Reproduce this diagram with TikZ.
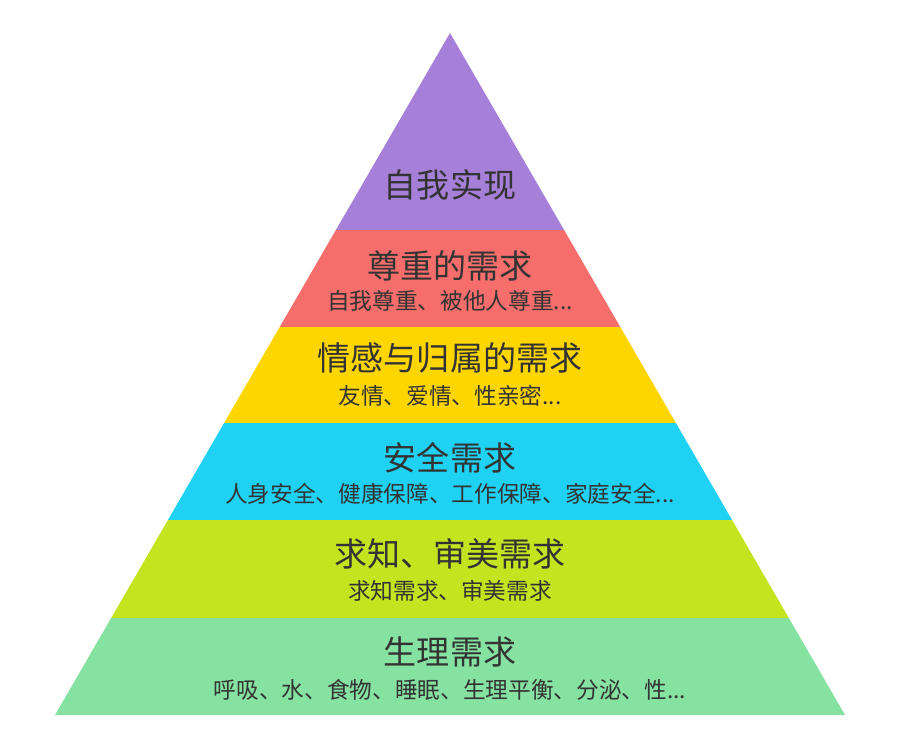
\documentclass[tikz,border=0pt]{standalone}
\usepackage{fontspec}
\newfontfamily\cjk{Noto Sans CJK SC}
\definecolor{selfc}{HTML}{A67FD9}
\definecolor{esteemc}{HTML}{F66E6C}
\definecolor{lovec}{HTML}{FDD600}
\definecolor{safec}{HTML}{1FD2F3}
\definecolor{knowc}{HTML}{C4E41F}
\definecolor{bodyc}{HTML}{86E2A1}
\definecolor{txtc}{HTML}{333333}
\tikzset{
  title/.style={text=txtc,font=\cjk\fontsize{18.8}{22}\selectfont,inner sep=0pt},
  sub/.style={text=txtc,font=\cjk\fontsize{12.9}{15}\selectfont,inner sep=0pt}
}
\begin{document}
\begin{tikzpicture}[x=0.02cm,y=-0.02cm]
  \fill[white] (0,0) rectangle (900,747);
  % layers, apex at (450,33), base from 55 to 845
  \foreach \top/\bot/\col in {33/230/selfc,230/327/esteemc,327/423/lovec,423/520/safec,520/618/knowc,618/715/bodyc}
    \fill[\col] ({450-(\top-33)*0.5792},\top) -- ({450+(\top-33)*0.5792},\top)
      -- ({450+(\bot-33)*0.5792},\bot) -- ({450-(\bot-33)*0.5792},\bot) -- cycle;
  \node[title] (self) at (450,185) {自我实现};
  \node[title] (esteem) at (450,266) {尊重的需求};
  \node[sub] (esteemsub) at (450,301) {自我尊重、被他人尊重...};
  \node[title] (love) at (450,358) {情感与归属的需求};
  \node[sub] (lovesub) at (450,396) {友情、爱情、性亲密...};
  \node[title] (safe) at (450,458) {安全需求};
  \node[sub] (safesub) at (450,494) {人身安全、健康保障、工作保障、家庭安全...};
  \node[title] (know) at (450,554) {求知、审美需求};
  \node[sub] (knowsub) at (450,591) {求知需求、审美需求};
  \node[title] (body) at (450,652) {生理需求};
  \node[sub] (bodysub) at (450,690) {呼吸、水、食物、睡眠、生理平衡、分泌、性...};
\end{tikzpicture}
\end{document}
